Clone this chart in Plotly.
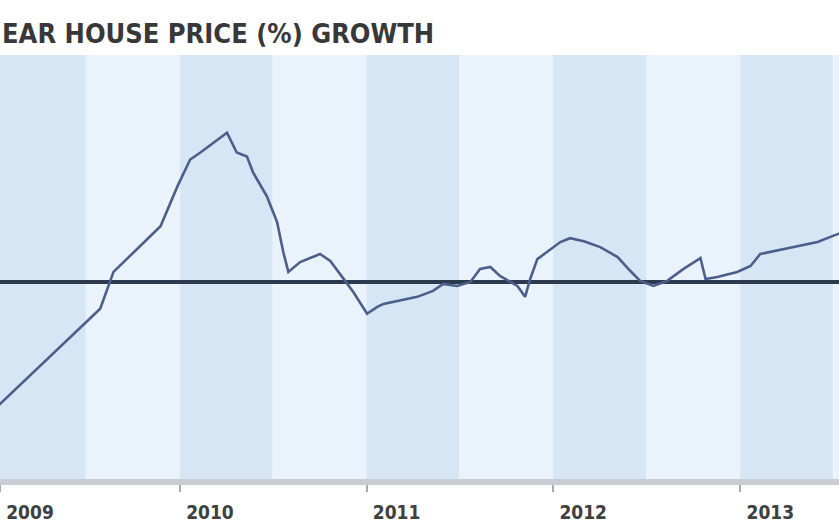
import plotly.graph_objects as go

# ---- data ----
dates = [
    "2009-01-01", "2009-07-29", "2009-08-24", "2009-11-24", "2009-12-27",
    "2010-01-21", "2010-02-10", "2010-03-07", "2010-04-03", "2010-04-22",
    "2010-05-12", "2010-05-24", "2010-06-20", "2010-07-10", "2010-07-22",
    "2010-08-01", "2010-08-24", "2010-10-02", "2010-10-22", "2010-11-20",
    "2010-12-06", "2011-01-02", "2011-01-22", "2011-02-03", "2011-04-10",
    "2011-05-11", "2011-05-31", "2011-06-27", "2011-07-23", "2011-08-11",
    "2011-08-31", "2011-09-19", "2011-10-23", "2011-11-07", "2011-11-17",
    "2011-12-01", "2011-12-20", "2012-01-15", "2012-02-03", "2012-03-01",
    "2012-04-02", "2012-05-06", "2012-05-31", "2012-06-19", "2012-07-15",
    "2012-08-11", "2012-09-12", "2012-10-15", "2012-10-25", "2012-11-17",
    "2012-12-26", "2013-01-21", "2013-02-09", "2013-03-26", "2013-06-01",
    "2013-07-10", "2013-07-25",
]
growth = [
    -8.6, -1.8, 0.67, 3.73, 6.4,
    8.2, 8.67, 9.33, 10.0, 8.67,
    8.4, 7.33, 5.73, 4.0, 2.0,
    0.67, 1.33, 1.87, 1.4, 0.07,
    -0.67, -2.13, -1.67, -1.47, -1.0,
    -0.6, -0.13, -0.27, 0.0, 0.87,
    1.0, 0.4, -0.27, -1.0, 0.2,
    1.53, 2.0, 2.67, 2.93, 2.73,
    2.33, 1.67, 0.73, 0.07, -0.27,
    0.07, 0.87, 1.6, 0.2, 0.33,
    0.67, 1.07, 1.87, 2.2, 2.67,
    3.2, 3.33,
]
years = [2009, 2010, 2011, 2012, 2013]
tick_labels = ["2009", "2010", "2011", "2012", "2013"]
title_text = "EAR HOUSE PRICE (%) GROWTH"

x_start, x_end = "2009-01-14", "2013-07-13"

fig = go.Figure()
fig.add_trace(go.Scatter(
    x=dates, y=growth, mode="lines",
    line=dict(color="#4c5f8c", width=2.6),
    hoverinfo="skip", showlegend=False,
))

# half-year background stripes
for yr in years:
    fig.add_shape(type="rect", xref="x", yref="paper",
                  x0=f"{yr}-01-01", x1=f"{yr}-07-01", y0=0, y1=1,
                  fillcolor="#d6e6f5", line_width=0, layer="below")
    fig.add_shape(type="rect", xref="x", yref="paper",
                  x0=f"{yr}-07-01", x1=f"{yr + 1}-01-01", y0=0, y1=1,
                  fillcolor="#eaf3fc", line_width=0, layer="below")

tickvals = [x_start] + [f"{y}-01-01" for y in years[1:]]

fig.update_layout(
    width=839, height=523,
    margin=dict(l=0, r=0, t=55, b=42),
    paper_bgcolor="white", plot_bgcolor="#eaf3fc",
    font=dict(family="Liberation Sans Narrow, DejaVu Sans Condensed, Roboto Condensed, sans-serif",
              color="#404040"),
    xaxis=dict(
        type="date", range=[x_start, x_end],
        tickvals=tickvals, ticktext=tick_labels,
        showgrid=False, zeroline=False,
        showline=True, linecolor="#c9cdd3", linewidth=6,
        ticks="outside", ticklen=7, tickwidth=2, tickcolor="#a8acb2",
        ticklabelshift=30, ticklabelstandoff=4,
        tickfont=dict(size=19, color="#404040", weight="bold"),
    ),
    yaxis=dict(
        range=[-13.2, 15.2], showgrid=False, showticklabels=False,
        zeroline=True, zerolinecolor="#2c3a4d", zerolinewidth=3.5,
        showline=False, ticks="",
    ),
    annotations=[dict(
        text=title_text, xref="paper", yref="paper",
        x=0, y=1, xanchor="left", yanchor="bottom", yshift=4,
        showarrow=False,
        font=dict(size=27, color="#383838", weight="bold",
                  family="Liberation Sans Narrow, DejaVu Sans Condensed, sans-serif"),
    )],
)

fig.write_html("out.html")
